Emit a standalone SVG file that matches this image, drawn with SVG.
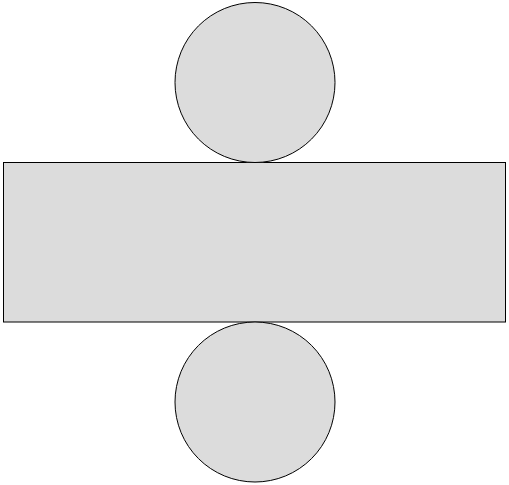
<svg xmlns="http://www.w3.org/2000/svg" width="509" height="485" viewBox="0 0 509 485">
<style>
.s{fill:#dcdcdc;stroke:#000;stroke-width:1}
</style>
<rect width="509" height="485" fill="#fff"/>
<g id="side"><rect class="s" x="3.5" y="162.5" width="502" height="159.5"/></g>
<g id="top"><circle class="s" cx="255" cy="82.5" r="80"/></g>
<g id="bottom"><circle class="s" cx="255" cy="402" r="80"/></g>
<g id="connectors"></g>
</svg>
